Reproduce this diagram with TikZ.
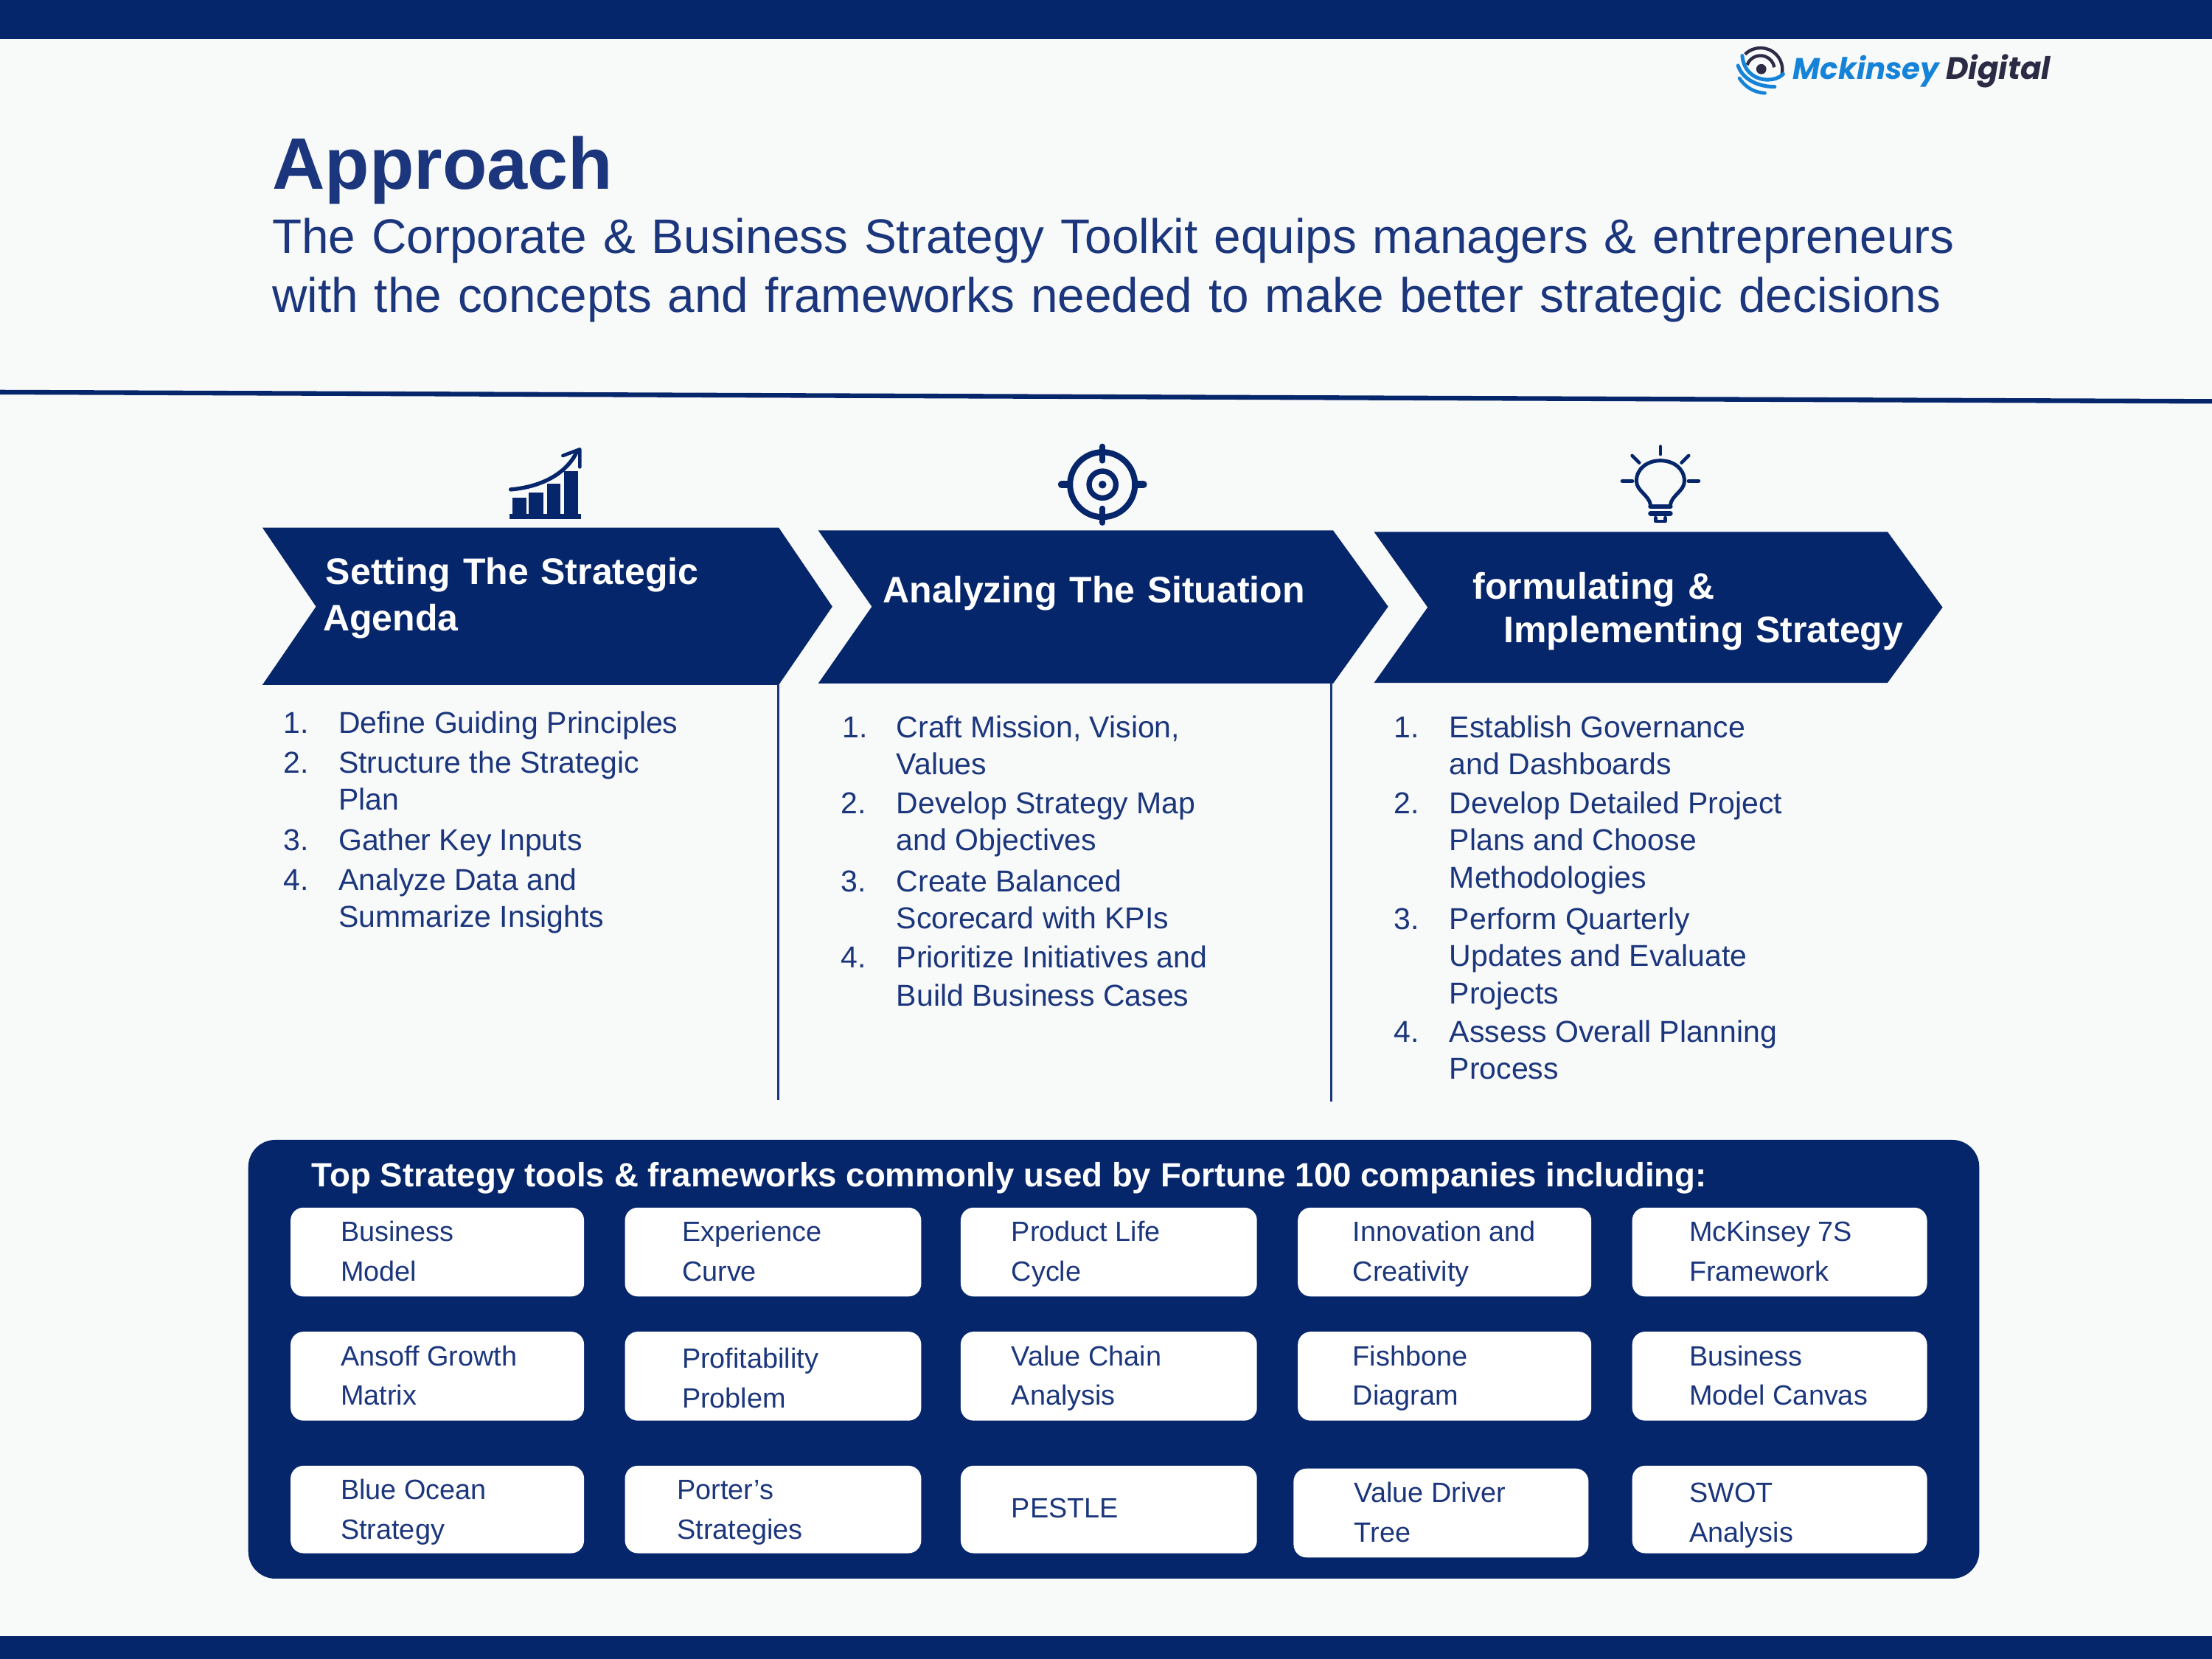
\documentclass[tikz,border=0pt]{standalone}
\usepackage{fontspec}
\setmainfont{Liberation Sans}
\definecolor{navy}{HTML}{06266B}
\definecolor{inkblue}{HTML}{1B367C}
\definecolor{pagebg}{HTML}{F8F9F9}
\definecolor{logoblue}{HTML}{1583D8}
\definecolor{logodark}{HTML}{2B2B45}
\newfontfamily\logofont{Poppins}
\newfontfamily\widefont[WordSpace=1.17]{Liberation Sans}
\newfontfamily\chevfont[WordSpace=1.2]{Liberation Sans}
\newcommand{\fs}[1]{\fontsize{#1pt}{#1pt}\selectfont}
\tikzset{
  x=0.57398pt,y=-0.57398pt,
  base/.style={anchor=base west,inner sep=0pt,outer sep=0pt},
  listtext/.style={base,text=inkblue,font=\fs{12.3}},
  boxtext/.style={base,text=inkblue,font=\fs{11.35}},
  chevtext/.style={base,text=white,font=\chevfont\fs{15}\bfseries},
  subtext/.style={base,text=inkblue,font=\widefont\fs{19.7}},
  chevron/.style={fill=navy,draw=none},
  toolbox/.style={fill=white,draw=none,rounded corners=5.2pt,inner sep=0pt},
  iconline/.style={draw=navy,line cap=round,line join=round},
}
\newcommand{\toolcard}[5]{\node[toolbox,minimum width={(#4-#2)*0.57398pt},minimum height={(#5-#3)*0.57398pt}] (#1) at ({(#2+#4)/2},{(#3+#5)/2}) {};}
\begin{document}
\begin{tikzpicture}
\useasboundingbox (0,0) rectangle (1568,1176);
\fill[pagebg] (0,0) rectangle (1568,1176);
\fill[navy] (0,0) rectangle (1568,27.5);
\fill[navy] (0,1160) rectangle (1568,1176);
% logo
\begin{scope}[shift={(1248,49.5)}]
  \draw[logodark,line width=1.3pt] (-11,-11) arc[start angle=225,end angle=375,radius=15.5];
  \draw[logodark,line width=1.3pt] (-9.5,-3.5) arc[start angle=200,end angle=350,radius=10];
  \fill[logodark] (0.5,-0.5) circle[radius=3.6];
  \draw[logoblue,line width=1.5pt,line cap=round] (-13,-10) .. controls (-12,2) and (-3,7) .. (5,7) .. controls (9,7) and (13,6) .. (16,3);
  \draw[logoblue,line width=1.5pt,line cap=round] (-16,-3) .. controls (-13,6) and (-3,12) .. (10,12);
  \draw[logoblue,line width=1.4pt,line cap=round] (-15,6) .. controls (-11,12) and (-5,16) .. (3,16.5);
\end{scope}
\node[base,text=logoblue,font=\logofont\fs{12.1}\bfseries\itshape] (logoA) at (1271,56) {Mckinsey};
\node[base,text=logodark,font=\logofont\fs{12.6}\bfseries\itshape] (logoB) at (1379.5,56) {Digital};
% heading
\node[base,text=inkblue,font=\fs{29.7}\bfseries] (title) at (193,134) {Approach};
\node[subtext] (subA) at (193,179.5) {The Corporate \& Business Strategy Toolkit equips managers \& entrepreneurs};
\node[subtext] (subB) at (193,221.5) {with the concepts and frameworks needed to make better strategic decisions};
\draw[navy,line width=1.9pt] (0,278) -- (1568,284.5);
% icons
\begin{scope}
  \fill[navy] (361,364.5) rectangle (412,368);
  \fill[navy] (363,353) rectangle (373,365);
  \fill[navy] (375,349) rectangle (385,365);
  \fill[navy] (388,343) rectangle (397,365);
  \fill[navy] (400,334) rectangle (410,365);
  \draw[iconline,line width=1.6pt] (362,347) .. controls (385,345) and (402,335) .. (409,320);
  \draw[iconline,line width=1.4pt] (399,323) -- (411,318.5) -- (411,331);
\end{scope}
\begin{scope}[shift={(781.5,343.5)}]
  \draw[navy,line width=2.4pt] (0,0) circle[radius=23];
  \draw[navy,line width=2.2pt] (0,0) circle[radius=9.5];
  \fill[navy] (0,0) circle[radius=2.8];
  \draw[navy,line width=2.4pt,line cap=round] (0,-27) -- (0,-17);
  \draw[navy,line width=2.4pt,line cap=round] (0,27) -- (0,17);
  \draw[navy,line width=3pt,line cap=round] (-29,0) -- (-25,0);
  \draw[navy,line width=3pt,line cap=round] (29,0) -- (25,0);
\end{scope}
\begin{scope}[shift={(1177,344)}]
  \draw[iconline,line width=1.5pt] (-7,14) .. controls (-8,7) and (-17,4) .. (-17,-3) .. controls (-17,-12) and (-9,-17.5) .. (0,-17.5) .. controls (9,-17.5) and (17,-12) .. (17,-3) .. controls (17,4) and (8,7) .. (7,14);
  \draw[iconline,line width=2pt] (-7,15) -- (7,15);
  \draw[iconline,line width=2pt] (-7,20) -- (7,20);
  \draw[iconline,line width=1.4pt] (-3.5,23) -- (-3.5,25.5) -- (3.5,25.5) -- (3.5,23);
  \draw[iconline,line width=1.4pt] (0,-22) -- (0,-27.5);
  \draw[iconline,line width=1.4pt] (-15,-16) -- (-20,-21);
  \draw[iconline,line width=1.4pt] (15,-16) -- (20,-21);
  \draw[iconline,line width=1.6pt] (-27,-3) -- (-20,-3);
  \draw[iconline,line width=1.6pt] (27,-3) -- (20,-3);
\end{scope}
% chevrons
\fill[chevron] (186,374) -- (552,374) -- (590,430) -- (552,485.5) -- (186,485.5) -- (224,430) -- cycle;
\fill[chevron] (580,376) -- (945,376) -- (984,430) -- (945,484.5) -- (580,484.5) -- (618,430) -- cycle;
\fill[chevron] (974,377) -- (1338,377) -- (1377,430.5) -- (1338,484) -- (974,484) -- (1012,430.5) -- cycle;
\node[chevtext] (chA1) at (231,414) {Setting The Strategic};
\node[chevtext] (chA2) at (229,447) {Agenda};
\node[chevtext] (chB1) at (626,427.5) {Analyzing The Situation};
\node[chevtext] (chC1) at (1044,424.5) {formulating \&};
\node[chevtext] (chC2) at (1066,455.5) {Implementing Strategy};
\draw[inkblue,line width=0.8pt] (551.5,485) -- (551.5,780);
\draw[inkblue,line width=0.8pt] (943.5,484) -- (943.5,781);
% list 1
\node[listtext] (a1n) at (201,520) {1.};
\node[listtext] (a1) at (240,520) {Define Guiding Principles};
\node[listtext] (a2n) at (201,548) {2.};
\node[listtext] (a2) at (240,548) {Structure the Strategic};
\node[listtext] (a2b) at (240,574) {Plan};
\node[listtext] (a3n) at (201,603) {3.};
\node[listtext] (a3) at (240,603) {Gather Key Inputs};
\node[listtext] (a4n) at (201,631) {4.};
\node[listtext] (a4) at (240,631) {Analyze Data and};
\node[listtext] (a4b) at (240,657) {Summarize Insights};
% list 2
\node[listtext] (b1n) at (597,523) {1.};
\node[listtext] (b1) at (635.5,523) {Craft Mission, Vision,};
\node[listtext] (b1b) at (635.5,549) {Values};
\node[listtext] (b2n) at (596,577) {2.};
\node[listtext] (b2) at (635.5,577) {Develop Strategy Map};
\node[listtext] (b2b) at (635.5,603) {and Objectives};
\node[listtext] (b3n) at (596,632) {3.};
\node[listtext] (b3) at (635.5,632) {Create Balanced};
\node[listtext] (b3b) at (635.5,658.5) {Scorecard with KPIs};
\node[listtext] (b4n) at (596,686) {4.};
\node[listtext] (b4) at (635.5,686) {Prioritize Initiatives and};
\node[listtext] (b4b) at (635.5,713) {Build Business Cases};
% list 3
\node[listtext] (c1n) at (988,523) {1.};
\node[listtext] (c1) at (1027.5,523) {Establish Governance};
\node[listtext] (c1b) at (1027.5,549) {and Dashboards};
\node[listtext] (c2n) at (988,577) {2.};
\node[listtext] (c2) at (1027.5,577) {Develop Detailed Project};
\node[listtext] (c2b) at (1027.5,603) {Plans and Choose};
\node[listtext] (c2c) at (1027.5,629.5) {Methodologies};
\node[listtext] (c3n) at (988,659) {3.};
\node[listtext] (c3) at (1027.5,659) {Perform Quarterly};
\node[listtext] (c3b) at (1027.5,685) {Updates and Evaluate};
\node[listtext] (c3c) at (1027.5,711.5) {Projects};
\node[listtext] (c4n) at (988,739) {4.};
\node[listtext] (c4) at (1027.5,739) {Assess Overall Planning};
\node[listtext] (c4b) at (1027.5,765) {Process};
% panel
\fill[navy,rounded corners=11pt] (176,808) rectangle (1403,1119);
\node[base,text=white,font=\fs{13.7}\bfseries] (panelT) at (221,841) {Top Strategy tools \& frameworks commonly used by Fortune 100 companies including:};
\toolcard{t11}{206}{856}{414}{919}
\toolcard{t12}{443}{856}{653}{919}
\toolcard{t13}{681}{856}{891}{919}
\toolcard{t14}{920}{856}{1128}{919}
\toolcard{t15}{1157}{856}{1366}{919}
\toolcard{t21}{206}{944}{414}{1007}
\toolcard{t22}{443}{944}{653}{1007}
\toolcard{t23}{681}{944}{891}{1007}
\toolcard{t24}{920}{944}{1128}{1007}
\toolcard{t25}{1157}{944}{1366}{1007}
\toolcard{t31}{206}{1039}{414}{1101}
\toolcard{t32}{443}{1039}{653}{1101}
\toolcard{t33}{681}{1039}{891}{1101}
\toolcard{t34}{917}{1041}{1126}{1104}
\toolcard{t35}{1157}{1039}{1366}{1101}
\node[boxtext] (x11a) at (241.5,880) {Business};
\node[boxtext] (x11b) at (241.5,908) {Model};
\node[boxtext] (x12a) at (483.5,880) {Experience};
\node[boxtext] (x12b) at (483.5,908) {Curve};
\node[boxtext] (x13a) at (717,880) {Product Life};
\node[boxtext] (x13b) at (717,908) {Cycle};
\node[boxtext] (x14a) at (959,880) {Innovation and};
\node[boxtext] (x14b) at (959,908) {Creativity};
\node[boxtext] (x15a) at (1197.5,880) {McKinsey 7S};
\node[boxtext] (x15b) at (1197.5,908) {Framework};
\node[boxtext] (x21a) at (241.5,968) {Ansoff Growth};
\node[boxtext] (x21b) at (241.5,996) {Matrix};
\node[boxtext] (x22a) at (483.5,970) {Profitability};
\node[boxtext] (x22b) at (483.5,998) {Problem};
\node[boxtext] (x23a) at (717,968) {Value Chain};
\node[boxtext] (x23b) at (717,996) {Analysis};
\node[boxtext] (x24a) at (959,968) {Fishbone};
\node[boxtext] (x24b) at (959,996) {Diagram};
\node[boxtext] (x25a) at (1197.5,968) {Business};
\node[boxtext] (x25b) at (1197.5,996) {Model Canvas};
\node[boxtext] (x31a) at (241.5,1063) {Blue Ocean};
\node[boxtext] (x31b) at (241.5,1091) {Strategy};
\node[boxtext] (x32a) at (480,1063) {Porter's};
\node[boxtext] (x32b) at (480,1091) {Strategies};
\node[boxtext] (x33a) at (717,1076) {PESTLE};
\node[boxtext] (x34a) at (960,1065) {Value Driver};
\node[boxtext] (x34b) at (960,1093) {Tree};
\node[boxtext] (x35a) at (1197.5,1065) {SWOT};
\node[boxtext] (x35b) at (1197.5,1093) {Analysis};
\end{tikzpicture}
\end{document}
